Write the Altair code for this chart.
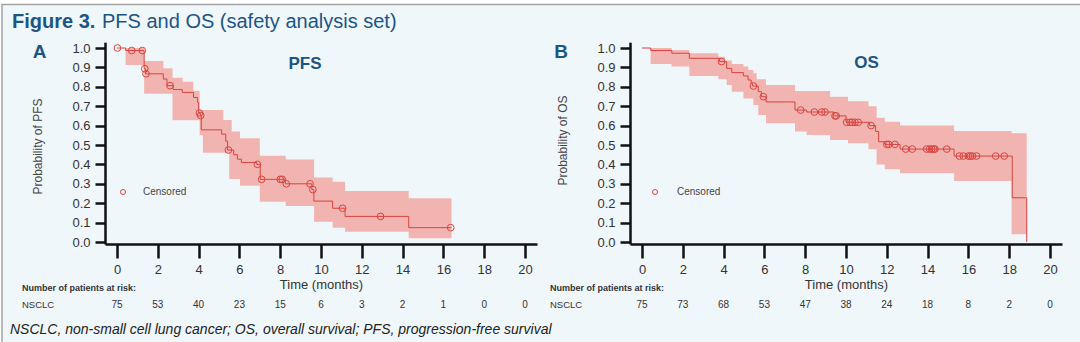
import altair as alt
import pandas as pd

# ---------------- data ----------------
# PFS Kaplan-Meier steps
pfs_t = [0, 0.42, 1.33, 1.40, 2.27, 2.45, 2.75, 3.2, 3.75, 3.95, 4.0, 4.08, 4.13, 5.13, 5.33, 5.42,
         5.72, 5.9, 6.1, 6.85, 7.02, 8.25, 9.55, 9.65, 10.57, 11.18, 14.3, 16.4]
pfs_s = [1.0, 0.987, 0.893, 0.867, 0.840, 0.806, 0.786, 0.771, 0.745, 0.72, 0.665, 0.652, 0.578, 0.556, 0.52, 0.474,
         0.45, 0.427, 0.41, 0.40, 0.323, 0.30, 0.27, 0.211, 0.174, 0.132, 0.074, 0.074]
pfs_cens_t = [0.02, 0.72, 1.24, 1.36, 1.42, 2.6, 4.04, 4.1, 5.46, 6.88, 7.09, 8.0, 8.1, 8.3, 9.46, 9.6,
              11.06, 12.92, 16.36]
pfs_cens_s = [1.0, 0.987, 0.987, 0.893, 0.867, 0.806, 0.665, 0.652, 0.474, 0.40, 0.323, 0.323, 0.323, 0.30,
              0.30, 0.27, 0.174, 0.132, 0.074]
pfs_band_t = [0.42, 1.33, 2.27, 2.72, 3.22, 3.74, 4.05, 4.21, 5.21, 5.5, 5.62, 6.03, 7.0, 8.27, 9.66,
              10.57, 11.18, 14.3, 16.4]
pfs_band_lo = [0.912, 0.764, 0.764, 0.628, 0.628, 0.628, 0.55, 0.46, 0.46, 0.325, 0.325, 0.29, 0.208,
               0.186, 0.105, 0.074, 0.053, 0.019, 0.019]
pfs_band_hi = [1.0, 0.933, 0.895, 0.847, 0.826, 0.78, 0.68, 0.68, 0.629, 0.629, 0.569, 0.535, 0.445,
               0.425, 0.333, 0.311, 0.263, 0.225, 0.225]

# OS Kaplan-Meier steps
os_t = [0, 0.43, 1.46, 2.32, 3.8, 4.15, 4.4, 4.97, 5.2, 5.35, 5.42, 5.7, 5.85, 6.08, 7.5, 8.07, 9.4,
        10.0, 11.15, 11.45, 11.6, 11.9, 12.65, 15.3, 18.15, 18.86]
os_s = [1.0, 0.987, 0.973, 0.947, 0.93, 0.895, 0.873, 0.856, 0.835, 0.818, 0.804, 0.775, 0.749, 0.722,
        0.68, 0.67, 0.65, 0.617, 0.60, 0.57, 0.517, 0.503, 0.479, 0.443, 0.228, 0.0]
os_cens_t = [3.9, 5.46, 5.95, 7.78, 8.45, 8.81, 8.97, 9.46, 9.52, 10.03, 10.2, 10.3, 10.44, 10.6, 11.23,
             12.0, 12.1, 12.4, 12.93, 13.25, 13.95, 14.1, 14.2, 14.3, 14.36, 14.94,
             15.56, 15.75, 16.0, 16.1, 16.2, 16.4, 17.34, 17.76]
os_cens_s = [0.93, 0.804, 0.749, 0.68, 0.67, 0.67, 0.67, 0.65, 0.65, 0.617, 0.617, 0.617, 0.617, 0.617,
             0.60, 0.503, 0.503, 0.503, 0.479, 0.479, 0.479, 0.479, 0.479, 0.479, 0.479, 0.479,
             0.443, 0.443, 0.443, 0.443, 0.443, 0.443, 0.443, 0.443]
os_band_t = [0.42, 1.45, 2.32, 3.74, 4.07, 4.15, 4.4, 4.97, 5.21, 5.46, 5.62, 5.7, 6.08, 7.5, 8.07, 9.22,
             10.1, 11.1, 11.5, 11.9, 12.65, 15.3, 18.12, 18.86]
os_band_lo = [0.918, 0.904, 0.856, 0.839, 0.839, 0.809, 0.775, 0.74, 0.74, 0.706, 0.706, 0.655, 0.612,
              0.569, 0.552, 0.526, 0.509, 0.478, 0.40, 0.375, 0.354, 0.314, 0.04, 0.04]
os_band_hi = [1.0, 0.99, 0.973, 0.955, 0.935, 0.935, 0.918, 0.904, 0.887, 0.87, 0.839, 0.839, 0.809,
              0.778, 0.778, 0.749, 0.725, 0.70, 0.64, 0.62, 0.60, 0.572, 0.56, 0.56]

# Number at risk table
risk_times = [0, 2, 4, 6, 8, 10, 12, 14, 16, 18, 20]
pfs_risk = [75, 53, 40, 23, 15, 6, 3, 2, 1, 0, 0]
os_risk = [75, 73, 68, 53, 47, 38, 24, 18, 8, 2, 0]

x_ticks = [0, 2, 4, 6, 8, 10, 12, 14, 16, 18, 20]
y_ticks = [0.0, 0.1, 0.2, 0.3, 0.4, 0.5, 0.6, 0.7, 0.8, 0.9, 1.0]

# ---------------- styling ----------------
FONT = "Liberation Sans, Arial, sans-serif"
NARROW = "Liberation Sans Narrow, Arial Narrow, Liberation Sans, sans-serif"
BLUE = "#1b5583"
RED = "#d9433f"
PINK = "#f2b4b0"
BG = "#f0f7fb"
W, H = 1080, 342


def one(**kw):
    return pd.DataFrame([kw]) if kw else pd.DataFrame({"a": [0]})


def text(txt, x, y, size, color="#222", weight="normal", style="normal", align="left",
         baseline="alphabetic", font=FONT):
    return alt.Chart(one()).mark_text(
        text=txt, font=font, fontSize=size, fontWeight=weight, fontStyle=style, color=color,
        align=align, baseline=baseline
    ).encode(x=alt.value(x), y=alt.value(y))


def panel(t, s, ct, cs, bt, blo, bhi, risk, x0, x1, y_title, y_title_y):
    xs = alt.Scale(domain=[-0.59, 20.59], range=[x0, x1], nice=False, zero=False)
    ys = alt.Scale(domain=[-0.01, 1.03], range=[243.94, 42.18], nice=False, zero=False)
    xaxis = alt.Axis(
        orient="bottom", offset=-(H - 244), values=x_ticks, format="d", title="Time (months)",
        grid=False, zindex=2, tickSize=14, tickWidth=2.5, tickColor="#111", domainColor="#111",
        domainWidth=2.5,
        labelFont=FONT, labelFontSize=13, labelColor="#333", labelPadding=15,
        labelBaseline="alphabetic", labelFlush=False, labelOverlap=False,
        titleFont=FONT, titleFontSize=13, titleFontWeight="normal", titleColor="#333",
        titleY=44, titleBaseline="alphabetic",
    )
    yaxis = alt.Axis(
        orient="left", offset=-x0, values=y_ticks, format=".1f", title=y_title,
        grid=False, zindex=2, tickSize=10, tickWidth=2.5, tickColor="#111", domainColor="#111",
        domainWidth=2.5,
        labelFont=FONT, labelFontSize=13, labelColor="#333", labelPadding=5,
        labelFlush=False, labelOverlap=False,
        titleFont=FONT, titleFontSize=12, titleFontWeight="normal", titleColor="#444",
        titleX=-64, titleY=y_title_y, titleBaseline="alphabetic",
    )
    X = alt.X("t:Q", scale=xs, axis=xaxis)

    band_df = pd.DataFrame({"t": bt, "lo": blo, "hi": bhi})
    curve_df = pd.DataFrame({"t": t, "s": s})
    cens_df = pd.DataFrame({"t": ct, "s": cs})
    risk_df = pd.DataFrame({"t": risk_times, "n": risk})

    band = alt.Chart(band_df).mark_area(interpolate="step-after", color=PINK, opacity=1).encode(
        x=X, y=alt.Y("lo:Q", scale=ys, axis=yaxis), y2="hi:Q")
    line = alt.Chart(curve_df).mark_line(interpolate="step-after", color=RED, strokeWidth=1).encode(
        x=X, y=alt.Y("s:Q", scale=ys, axis=yaxis))
    pts = alt.Chart(cens_df).mark_point(shape="circle", filled=False, size=45, color=RED,
                                        strokeWidth=1, opacity=1).encode(
        x=X, y=alt.Y("s:Q", scale=ys, axis=yaxis))
    risk_txt = alt.Chart(risk_df).mark_text(font=NARROW, fontSize=10, color="#333",
                                            baseline="alphabetic", align="center").encode(
        x=X, y=alt.value(308), text="n:Q")
    return alt.layer(band, line, pts, risk_txt)


pA = panel(pfs_t, pfs_s, pfs_cens_t, pfs_cens_s, pfs_band_t, pfs_band_lo, pfs_band_hi,
           pfs_risk, 105, 537, "Probability of PFS", 146)
pB = panel(os_t, os_s, os_cens_t, os_cens_s, os_band_t, os_band_lo, os_band_hi,
           os_risk, 630, 1062, "Probability of OS", 140)

bg = alt.Chart(one()).mark_rect(fill=BG, stroke="#a3a3a3", strokeWidth=1.5).encode(
    x=alt.value(2), x2=alt.value(1100), y=alt.value(4.5), y2=alt.value(360))

deco = [
    text("Figure 3.", 12, 28, 20, color=BLUE, weight="bold"),
    text("PFS and OS (safety analysis set)", 102, 28, 20, color=BLUE),
    text("A", 39.5, 58, 19, color=BLUE, weight="bold", align="center"),
    text("B", 561, 58, 19, color=BLUE, weight="bold", align="center"),
    text("PFS", 305, 69, 17, color=BLUE, weight="bold", align="center"),
    text("OS", 866.5, 68, 17, color=BLUE, weight="bold", align="center"),
    text("Censored", 143, 192, 10, color="#444", baseline="middle"),
    text("Censored", 677, 192, 10, color="#444", baseline="middle"),
    text("Number of patients at risk:", 22, 291, 9, color="#333", weight="bold", font=NARROW),
    text("Number of patients at risk:", 550, 291, 9, color="#333", weight="bold", font=NARROW),
    text("NSCLC", 22, 308, 9.5, color="#333", font=NARROW),
    text("NSCLC", 550, 308, 9.5, color="#333", font=NARROW),
    text("NSCLC, non-small cell lung cancer; OS, overall survival; PFS, progression-free survival",
         10, 334, 14, color="#222", style="italic"),
]
leg_pts = [
    alt.Chart(one()).mark_point(shape="circle", filled=False, size=25, color=RED, strokeWidth=1,
                                opacity=1).encode(x=alt.value(123), y=alt.value(192)),
    alt.Chart(one()).mark_point(shape="circle", filled=False, size=25, color=RED, strokeWidth=1,
                                opacity=1).encode(x=alt.value(655), y=alt.value(192)),
]

chart = alt.layer(bg, *deco, *leg_pts, pA, pB).resolve_scale(
    x="independent", y="independent"
).properties(
    width=W, height=H, autosize=alt.AutoSizeParams(type="none"), padding=0, background="white"
).configure_view(stroke=None)

chart.save("out.html", embed_options={"renderer": "svg", "actions": False})
